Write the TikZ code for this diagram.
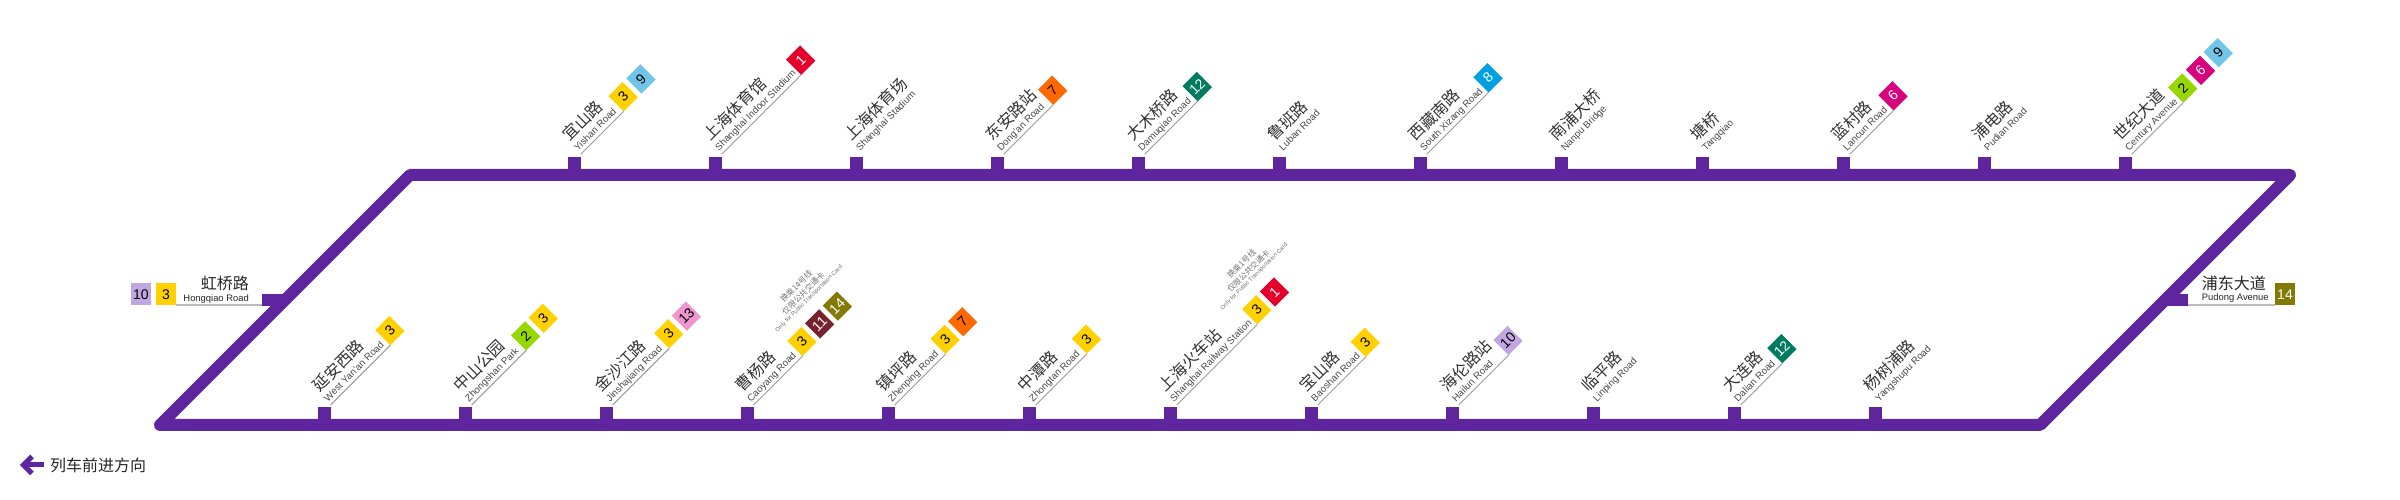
\documentclass[tikz,border=0pt]{standalone}
\usepackage{fontspec}
\usepackage{tikz}
\setmainfont{Liberation Sans}
\newfontfamily\cjk{Noto Sans CJK SC}

\definecolor{metro}{HTML}{5F259F}
\definecolor{c1}{HTML}{E4002B}
\definecolor{c2}{HTML}{97D700}
\definecolor{c3}{HTML}{FFD100}
\definecolor{c6}{HTML}{D9027D}
\definecolor{c7}{HTML}{FF6900}
\definecolor{c8}{HTML}{009FDF}
\definecolor{c9}{HTML}{71C5E8}
\definecolor{c10}{HTML}{C1A7E2}
\definecolor{c11}{HTML}{76232F}
\definecolor{c12}{HTML}{007B5F}
\definecolor{c13}{HTML}{EF95CF}
\definecolor{c14}{HTML}{827A04}

\tikzset{
  tick/.style={fill=metro,inner sep=0pt,outer sep=0pt,minimum width=12.4pt,minimum height=18pt,anchor=south},
  sidetick/.style={fill=metro,inner sep=0pt,outer sep=0pt,minimum width=23pt,minimum height=12pt},
  zhname/.style={anchor=base west,inner sep=0pt,text=black!80,font=\cjk\fontsize{16}{16}\selectfont},
  enname/.style={anchor=base west,inner sep=0pt,text=black!72,font=\fontsize{9.7}{10}\selectfont},
  zhside/.style={inner sep=0pt,text=black!85,font=\cjk\fontsize{16}{16}\selectfont},
  enside/.style={inner sep=0pt,text=black!85,font=\fontsize{9.4}{9.4}\selectfont},
  note/.style={inner sep=0pt,text=black!55,align=center,font=\cjk\fontsize{8}{10}\selectfont},
  noteen/.style={inner sep=0pt,text=black!55,font=\fontsize{5.9}{6}\selectfont},
  badge/.style={inner sep=0pt,outer sep=0pt,minimum width=20pt,minimum height=21.5pt,anchor=south west,font=\fontsize{14}{14}\selectfont},
  leader/.style={draw=black!40,line width=1pt},
  sideleader/.style={draw=black!27,line width=2pt},
  turned/.style={rotate=45,transform shape},
  dirarrow/.style={draw=metro,line width=5pt,miter limit=4},
  line1/.style={fill=c1,text=white},
  line2/.style={fill=c2,text=black},
  line3/.style={fill=c3,text=black},
  line6/.style={fill=c6,text=white},
  line7/.style={fill=c7,text=black},
  line8/.style={fill=c8,text=white},
  line9/.style={fill=c9,text=black},
  line10/.style={fill=c10,text=black},
  line11/.style={fill=c11,text=white},
  line12/.style={fill=c12,text=white},
  line13/.style={fill=c13,text=black},
  line14/.style={fill=c14,text=white},
}

\begin{document}
\begin{tikzpicture}[x=1pt,y=1pt]
  \useasboundingbox (0,0) rectangle (2400,500);

  \draw[metro,line width=12pt,line join=round] (160,75) -- (410,325) -- (2290,325) -- (2040,75) -- cycle;

  % upper side
  \node[tick] (yishan) at (574.5,325) {};
  \begin{scope}[shift={(yishan.north east)},yshift=2.7pt,turned]
    \coordinate (yishanbase) at (0,0);
    \node[zhname] (yishanzh) at (1,16.5) {宜山路};
    \node[enname] (yishanen) at (0,4) {Yishan Road};
    \node[badge,line3] (yishan3) at (60.8,0) {3};
    \node[badge,line9] (yishan9) at (85.8,0) {9};
    \draw[leader] (yishanbase) -- (yishan3.south west);
  \end{scope}

  \node[tick] (indoor) at (715.5,325) {};
  \begin{scope}[shift={(indoor.north east)},yshift=2.7pt,turned]
    \coordinate (indoorbase) at (0,0);
    \node[zhname] (indoorzh) at (1,16.5) {上海体育馆};
    \node[enname] (indooren) at (0,4) {Shanghai Indoor Stadium};
    \node[badge,line1] (indoor1) at (112.4,0) {1};
    \draw[leader] (indoorbase) -- (indoor1.south west);
  \end{scope}

  \node[tick] (stadium) at (856.5,325) {};
  \begin{scope}[shift={(stadium.north east)},yshift=2.7pt,turned]
    \node[zhname] (stadiumzh) at (1,16.5) {上海体育场};
    \node[enname] (stadiumen) at (0,4) {Shanghai Stadium};
  \end{scope}

  \node[tick] (dongan) at (997.5,325) {};
  \begin{scope}[shift={(dongan.north east)},yshift=2.7pt,turned]
    \coordinate (donganbase) at (0,0);
    \node[zhname] (donganzh) at (1,16.5) {东安路站};
    \node[enname] (donganen) at (0,4) {Dong'an Road};
    \node[badge,line7] (dongan7) at (70,0) {7};
    \draw[leader] (donganbase) -- (dongan7.south west);
  \end{scope}

  \node[tick] (damuqiao) at (1138.5,325) {};
  \begin{scope}[shift={(damuqiao.north east)},yshift=2.7pt,turned]
    \coordinate (damuqiaobase) at (0,0);
    \node[zhname] (damuqiaozh) at (1,16.5) {大木桥路};
    \node[enname] (damuqiaoen) at (0,4) {Damuqiao Road};
    \node[badge,line12] (damuqiao12) at (75,0) {12};
    \draw[leader] (damuqiaobase) -- (damuqiao12.south west);
  \end{scope}

  \node[tick] (luban) at (1279.5,325) {};
  \begin{scope}[shift={(luban.north east)},yshift=2.7pt,turned]
    \node[zhname] (lubanzh) at (1,16.5) {鲁班路};
    \node[enname] (lubanen) at (0,4) {Luban Road};
  \end{scope}

  \node[tick] (xizang) at (1420.5,325) {};
  \begin{scope}[shift={(xizang.north east)},yshift=2.7pt,turned]
    \coordinate (xizangbase) at (0,0);
    \node[zhname] (xizangzh) at (1,16.5) {西藏南路};
    \node[enname] (xizangen) at (0,4) {South Xizang Road};
    \node[badge,line8] (xizang8) at (87.5,0) {8};
    \draw[leader] (xizangbase) -- (xizang8.south west);
  \end{scope}

  \node[tick] (nanpu) at (1561.5,325) {};
  \begin{scope}[shift={(nanpu.north east)},yshift=2.7pt,turned]
    \node[zhname] (nanpuzh) at (1,16.5) {南浦大桥};
    \node[enname] (nanpuen) at (0,4) {Nanpu Bridge};
  \end{scope}

  \node[tick] (tangqiao) at (1702.5,325) {};
  \begin{scope}[shift={(tangqiao.north east)},yshift=2.7pt,turned]
    \node[zhname] (tangqiaozh) at (1,16.5) {塘桥};
    \node[enname] (tangqiaoen) at (0,4) {Tangqiao};
  \end{scope}

  \node[tick] (lancun) at (1843.5,325) {};
  \begin{scope}[shift={(lancun.north east)},yshift=2.7pt,turned]
    \coordinate (lancunbase) at (0,0);
    \node[zhname] (lancunzh) at (1,16.5) {蓝村路};
    \node[enname] (lancunen) at (0,4) {Lancun Road};
    \node[badge,line6] (lancun6) at (62,0) {6};
    \draw[leader] (lancunbase) -- (lancun6.south west);
  \end{scope}

  \node[tick] (pudian) at (1984.5,325) {};
  \begin{scope}[shift={(pudian.north east)},yshift=2.7pt,turned]
    \node[zhname] (pudianzh) at (1,16.5) {浦电路};
    \node[enname] (pudianen) at (0,4) {Pudian Road};
  \end{scope}

  \node[tick] (century) at (2125.5,325) {};
  \begin{scope}[shift={(century.north east)},yshift=2.7pt,turned]
    \coordinate (centurybase) at (0,0);
    \node[zhname] (centuryzh) at (1,16.5) {世纪大道};
    \node[enname] (centuryen) at (0,4) {Century Avenue};
    \node[badge,line2] (century2) at (73,0) {2};
    \node[badge,line6] (century6) at (98,0) {6};
    \node[badge,line9] (century9) at (123,0) {9};
    \draw[leader] (centurybase) -- (century2.south west);
  \end{scope}

  % lower side
  \node[tick] (yanan) at (324.5,75) {};
  \begin{scope}[shift={(yanan.north east)},yshift=2pt,turned]
    \coordinate (yananbase) at (0,0);
    \node[zhname] (yananzh) at (1,16.5) {延安西路};
    \node[enname] (yananen) at (0,4) {West Yan'an Road};
    \node[badge,line3] (yanan3) at (84.5,0) {3};
    \draw[leader] (yananbase) -- (yanan3.south west);
  \end{scope}

  \node[tick] (zhongshan) at (465.5,75) {};
  \begin{scope}[shift={(zhongshan.north east)},yshift=2pt,turned]
    \coordinate (zhongshanbase) at (0,0);
    \node[zhname] (zhongshanzh) at (1,16.5) {中山公园};
    \node[enname] (zhongshanen) at (0,4) {Zhongshan Park};
    \node[badge,line2] (zhongshan2) at (77,0) {2};
    \node[badge,line3] (zhongshan3) at (102,0) {3};
    \draw[leader] (zhongshanbase) -- (zhongshan2.south west);
  \end{scope}

  \node[tick] (jinsha) at (606.5,75) {};
  \begin{scope}[shift={(jinsha.north east)},yshift=2pt,turned]
    \coordinate (jinshabase) at (0,0);
    \node[zhname] (jinshazh) at (1,16.5) {金沙江路};
    \node[enname] (jinshaen) at (0,4) {Jinshajiang Road};
    \node[badge,line3] (jinsha3) at (80,0) {3};
    \node[badge,line13] (jinsha13) at (105,0) {13};
    \draw[leader] (jinshabase) -- (jinsha3.south west);
  \end{scope}

  \node[tick] (caoyang) at (747.5,75) {};
  \begin{scope}[shift={(caoyang.north east)},yshift=2pt,turned]
    \coordinate (caoyangbase) at (0,0);
    \node[zhname] (caoyangzh) at (1,16.5) {曹杨路};
    \node[enname] (caoyangen) at (0,4) {Caoyang Road};
    \node[badge,line3] (caoyang3) at (69,0) {3};
    \node[badge,line11] (caoyang11) at (94,0) {11};
    \node[badge,line14] (caoyang14) at (119,0) {14};
    \node[note] (caoyangnote) at (114.2,49) {换乘14号线\\仅限公共交通卡};
    \node[noteen] (caoyangnoteen) at (114.2,35.9) {Only for Public Transportation Card};
    \draw[leader] (caoyangbase) -- (caoyang3.south west);
  \end{scope}

  \node[tick] (zhenping) at (888.5,75) {};
  \begin{scope}[shift={(zhenping.north east)},yshift=2pt,turned]
    \coordinate (zhenpingbase) at (0,0);
    \node[zhname] (zhenpingzh) at (1,16.5) {镇坪路};
    \node[enname] (zhenpingen) at (0,4) {Zhenping Road};
    \node[badge,line3] (zhenping3) at (72,0) {3};
    \node[badge,line7] (zhenping7) at (97,0) {7};
    \draw[leader] (zhenpingbase) -- (zhenping3.south west);
  \end{scope}

  \node[tick] (zhongtan) at (1029.5,75) {};
  \begin{scope}[shift={(zhongtan.north east)},yshift=2pt,turned]
    \coordinate (zhongtanbase) at (0,0);
    \node[zhname] (zhongtanzh) at (1,16.5) {中潭路};
    \node[enname] (zhongtanen) at (0,4) {Zhongtan Road};
    \node[badge,line3] (zhongtan3) at (72.5,0) {3};
    \draw[leader] (zhongtanbase) -- (zhongtan3.south west);
  \end{scope}

  \node[tick] (railway) at (1170.5,75) {};
  \begin{scope}[shift={(railway.north east)},yshift=2pt,turned]
    \coordinate (railwaybase) at (0,0);
    \node[zhname] (railwayzh) at (1,16.5) {上海火车站};
    \node[enname] (railwayen) at (0,4) {Shanghai Railway Station};
    \node[badge,line3] (railway3) at (114,0) {3};
    \node[badge,line1] (railway1) at (139,0) {1};
    \node[note] (railwaynote) at (145.5,49) {换乘1号线\\仅限公共交通卡};
    \node[noteen] (railwaynoteen) at (145.5,35.9) {Only for Public Transportation Card};
    \draw[leader] (railwaybase) -- (railway3.south west);
  \end{scope}

  \node[tick] (baoshan) at (1311.5,75) {};
  \begin{scope}[shift={(baoshan.north east)},yshift=2pt,turned]
    \coordinate (baoshanbase) at (0,0);
    \node[zhname] (baoshanzh) at (1,16.5) {宝山路};
    \node[enname] (baoshanen) at (0,4) {Baoshan Road};
    \node[badge,line3] (baoshan3) at (68,0) {3};
    \draw[leader] (baoshanbase) -- (baoshan3.south west);
  \end{scope}

  \node[tick] (hailun) at (1452.5,75) {};
  \begin{scope}[shift={(hailun.north east)},yshift=2pt,turned]
    \coordinate (hailunbase) at (0,0);
    \node[zhname] (hailunzh) at (1,16.5) {海伦路站};
    \node[enname] (hailunen) at (0,4) {Hailun Road};
    \node[badge,line10] (hailun10) at (70.5,0) {10};
    \draw[leader] (hailunbase) -- (hailun10.south west);
  \end{scope}

  \node[tick] (linping) at (1593.5,75) {};
  \begin{scope}[shift={(linping.north east)},yshift=2pt,turned]
    \node[zhname] (linpingzh) at (1,16.5) {临平路};
    \node[enname] (linpingen) at (0,4) {Linping Road};
  \end{scope}

  \node[tick] (dalian) at (1734.5,75) {};
  \begin{scope}[shift={(dalian.north east)},yshift=2pt,turned]
    \coordinate (dalianbase) at (0,0);
    \node[zhname] (dalianzh) at (1,16.5) {大连路};
    \node[enname] (dalianen) at (0,4) {Dalian Road};
    \node[badge,line12] (dalian12) at (59,0) {12};
    \draw[leader] (dalianbase) -- (dalian12.south west);
  \end{scope}

  \node[tick] (yangshupu) at (1875.5,75) {};
  \begin{scope}[shift={(yangshupu.north east)},yshift=2pt,turned]
    \node[zhname] (yangshupuzh) at (1,16.5) {杨树浦路};
    \node[enname] (yangshupuen) at (0,4) {Yangshupu Road};
  \end{scope}

  % the two slanted sides
  \node[sidetick,anchor=east] (hongqiao) at (285,200) {};
  \node[zhside,anchor=base east] (hongqiaozh) at (249,210) {虹桥路};
  \node[enside,anchor=base east] (hongqiaoen) at (249,198) {Hongqiao Road};
  \node[badge,line3] (hongqiao3) at (156,195) {3};
  \node[badge,line10] (hongqiao10) at (131,195) {10};
  \draw[sideleader] (hongqiao3.south east) -- (hongqiao3.south east -| hongqiao.west);

  \node[sidetick,anchor=west] (pudong) at (2165,200) {};
  \node[zhside,anchor=base west] (pudongzh) at (2201.7,210) {浦东大道};
  \node[enside,anchor=base west] (pudongen) at (2201.7,199) {Pudong Avenue};
  \node[badge,line14] (pudong14) at (2275,195) {14};
  \draw[sideleader] (pudong14.south west) -- (pudong14.south west -| pudong.east);

  % direction of travel
  \node[zhside,anchor=west] (direction) at (50,35) {列车前进方向};
  \coordinate (directiontail) at (44,35);
  \coordinate (directiontip) at (23.5,35);
  \draw[dirarrow] (directiontail) -- (directiontip);
  \draw[dirarrow] (32,43.5) -- (directiontip) -- (32,26.5);
\end{tikzpicture}
\end{document}
